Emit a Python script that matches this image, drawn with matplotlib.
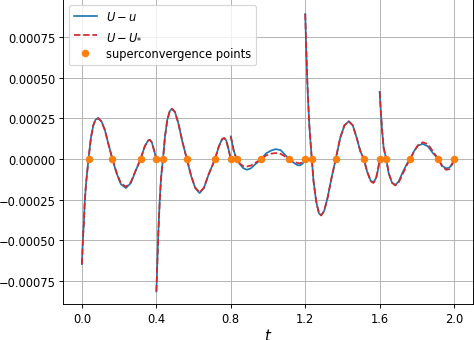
import matplotlib
matplotlib.use("Agg")
import matplotlib.pyplot as plt

# ---- data ----
t1 = [0.0, 0.0054, 0.0107, 0.0143, 0.0214, 0.028, 0.0354, 0.048, 0.061, 0.073, 0.0875, 0.105, 0.123,
      0.141, 0.1638, 0.186, 0.209, 0.236, 0.2625, 0.2875, 0.3151, 0.3375, 0.355, 0.364, 0.375, 0.387, 0.4]
err_u_1 = [-0.000645, -0.000486, -0.000383, -0.000281, -0.000158, -0.000082, 0.0, 0.000129, 0.000207,
           0.000242, 0.000252, 0.000232, 0.00018, 0.0000984, 0.0, -0.000086, -0.000154, -0.000178,
           -0.000148, -0.0000758, 0.0, 0.0000779, 0.000113, 0.000118, 0.000104, 0.0000560, 0.0]
err_us_1 = [-0.000645, -0.000486, -0.000383, -0.000281, -0.000158, -0.000082, 0.0, 0.000129, 0.000207,
            0.000242, 0.000250, 0.000230, 0.000178, 0.0000970, 0.0, -0.000084, -0.000147, -0.000170,
            -0.000142, -0.0000730, 0.0, 0.0000779, 0.000113, 0.000118, 0.000104, 0.0000560, 0.0]

t2 = [0.4, 0.4054, 0.4107, 0.4179, 0.425, 0.4304, 0.4354, 0.4464, 0.4589, 0.4714, 0.4839, 0.5, 0.5179,
      0.5393, 0.5638, 0.5875, 0.6089, 0.6321, 0.6554, 0.6804, 0.7151, 0.7357, 0.7536, 0.7643, 0.7750,
      0.7870, 0.8]
err_u_2 = [-0.000813, -0.000629, -0.000445, -0.00026, -0.000117, -0.000055, 0.0, 0.000139, 0.000242,
           0.000293, 0.000309, 0.000289, 0.000221, 0.000109, 0.0, -0.000107, -0.000178, -0.000209,
           -0.000178, -0.0000963, 0.0, 0.0000779, 0.000123, 0.000129, 0.000115, 0.0000640, 0.0]
err_us_2 = [-0.000813, -0.000629, -0.000445, -0.00026, -0.000117, -0.000055, 0.0, 0.000139, 0.000242,
            0.000293, 0.000309, 0.000289, 0.000221, 0.000109, 0.0, -0.000105, -0.000175, -0.000205,
            -0.000176, -0.0000950, 0.0, 0.0000779, 0.000123, 0.000129, 0.000115, 0.0000640, 0.0]

t3 = [0.8, 0.8071, 0.8161, 0.8268, 0.8354, 0.8482, 0.8661, 0.8857, 0.9071, 0.9286, 0.9638, 0.9893,
      1.0161, 1.0411, 1.0679, 1.0911, 1.1151, 1.1357, 1.1571, 1.1714, 1.1857, 1.2]
err_u_3 = [0.000139, 0.0000984, 0.0000512, 0.0000164, 0.0, -0.0000307, -0.0000553, -0.0000656,
           -0.0000574, -0.0000348, 0.0, 0.0000348, 0.000052, 0.000061, 0.000055, 0.000026, 0.0,
           -0.0000205, -0.0000369, -0.0000389, -0.0000287, 0.0]
err_us_3 = [0.000139, 0.0000984, 0.000048, 0.000012, 0.0, -0.000027, -0.000043, -0.000046,
            -0.000040, -0.000025, 0.0, 0.000022, 0.000033, 0.000037, 0.000032, 0.000016, 0.0,
            -0.000014, -0.000024, -0.000026, -0.00002, 0.0]

t4 = [1.2, 1.2054, 1.2107, 1.2143, 1.2214, 1.228, 1.2354, 1.2446, 1.2589, 1.2732, 1.2857, 1.3018,
      1.3196, 1.3411, 1.3638, 1.3875, 1.4107, 1.4339, 1.4554, 1.4768, 1.4964, 1.5151, 1.5321, 1.5518,
      1.5661, 1.5804, 1.5911, 1.6]
err_u_4 = [0.000891, 0.000671, 0.00049, 0.000388, 0.000218, 0.000110, 0.0, -0.000137, -0.00026,
           -0.000332, -0.000346, -0.000318, -0.00024, -0.000117, 0.0, 0.000129, 0.000207, 0.000232,
           0.000207, 0.000129, 0.0000471, 0.0, -0.0000758, -0.000133, -0.000143, -0.000117,
           -0.0000656, 0.0]
err_us_4 = [0.000891, 0.000671, 0.00049, 0.000388, 0.000218, 0.000110, 0.0, -0.000137, -0.00026,
            -0.000332, -0.000346, -0.000318, -0.00024, -0.000117, 0.0, 0.000129, 0.000207, 0.000232,
            0.000207, 0.000129, 0.0000471, 0.0, -0.0000758, -0.000136, -0.000147, -0.000120,
            -0.0000670, 0.0]

t5 = [1.6, 1.6054, 1.6125, 1.6214, 1.6354, 1.6482, 1.6661, 1.6839, 1.7018, 1.7232, 1.7464, 1.7638,
      1.7839, 1.8054, 1.8321, 1.8589, 1.8857, 1.9151, 1.9357, 1.9571, 1.975, 1.9893, 2.0]
err_u_5 = [0.000413, 0.000306, 0.000182, 0.0000682, 0.0, -0.0000868, -0.000145, -0.000159, -0.000138,
           -0.0000826, -0.0000289, 0.0, 0.0000475, 0.0000826, 0.000093, 0.0000785, 0.0000372, 0.0,
           -0.0000413, -0.000057, -0.000052, -0.0000289, 0.0]
err_us_5 = [0.000413, 0.000306, 0.000182, 0.0000682, 0.0, -0.000085, -0.000145, -0.000162, -0.000145,
            -0.000093, -0.000036, 0.0, 0.000045, 0.000085, 0.000103, 0.000092, 0.000048, 0.0,
            -0.000045, -0.000066, -0.000062, -0.000033, 0.0]

super_t = [0.0354, 0.1638, 0.3151, 0.4, 0.4354, 0.5638, 0.7151, 0.8, 0.8354, 0.9638, 1.1151, 1.2,
           1.2354, 1.3638, 1.5151, 1.6, 1.6354, 1.7638, 1.9151, 2.0]
super_v = [0.0] * len(super_t)

xticks = [0.0, 0.4, 0.8, 1.2, 1.6, 2.0]
yticks = [-0.00075, -0.0005, -0.00025, 0.0, 0.00025, 0.0005, 0.00075]

segments_t = [t1, t2, t3, t4, t5]
segments_u = [err_u_1, err_u_2, err_u_3, err_u_4, err_u_5]
segments_us = [err_us_1, err_us_2, err_us_3, err_us_4, err_us_5]

# ---- figure ----
DPI = 83
fig = plt.figure(figsize=(474 / DPI, 341 / DPI), dpi=DPI)
ax = fig.add_axes([0.1336, 0.1056, 0.8637, 0.893])

for i, (tt, uu, us) in enumerate(zip(segments_t, segments_u, segments_us)):
    ax.plot(tt, uu, color="#1f77b4", lw=1.5, label="$U-u$" if i == 0 else None, zorder=2)
    ax.plot(tt, us, color="#d62728", lw=1.5, ls="--", label="$U-U_{*}$" if i == 0 else None, zorder=3)

ax.plot(super_t, super_v, "o", color="#ff7f0e", ms=5.5, ls="none",
        label="superconvergence points", zorder=4)

ax.set_xticks(xticks)
ax.set_yticks(yticks)
ax.set_xlim(-0.1, 2.1)
ax.set_ylim(-0.00089, 0.00098)
ax.grid(True, color="#b0b0b0", lw=0.8)
ax.set_xlabel("$t$", fontsize=13, labelpad=2)
ax.legend(loc="upper left")

fig.savefig("out.png", dpi=DPI)
